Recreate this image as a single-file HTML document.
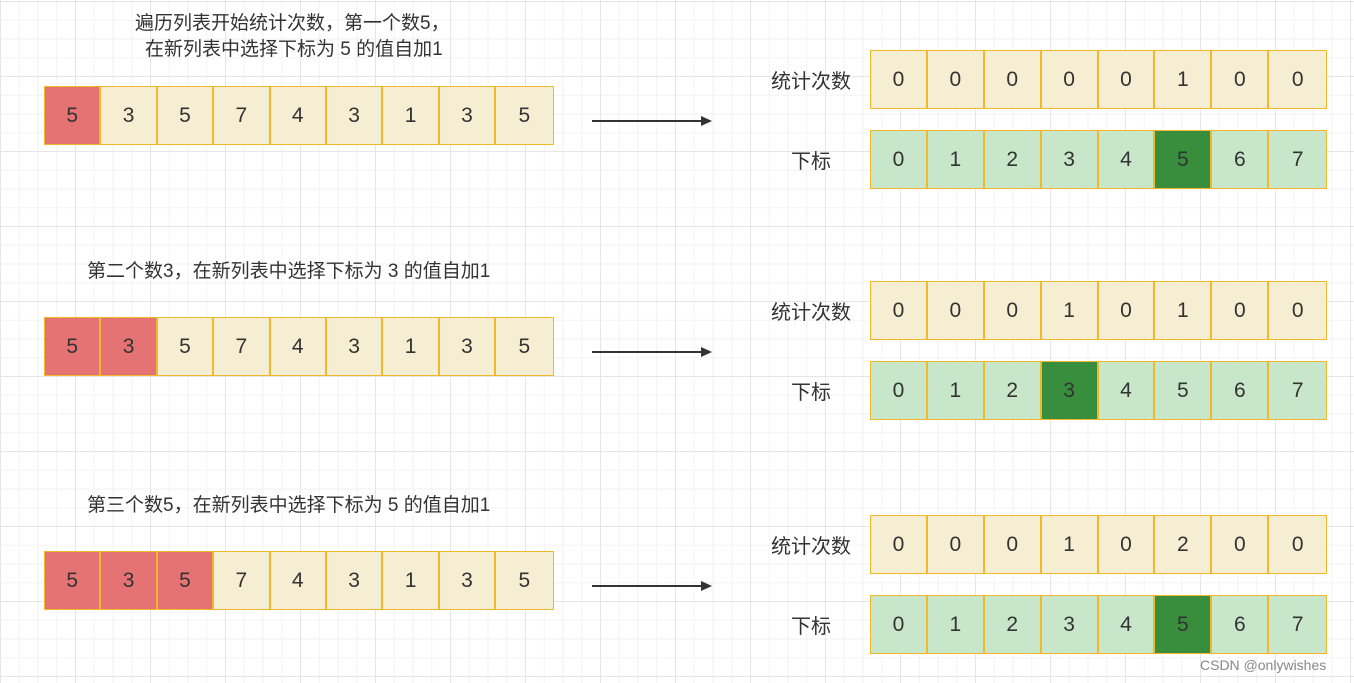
<!DOCTYPE html>
<html><head><meta charset="utf-8"><style>
body{margin:0;width:1354px;height:683px;overflow:hidden;position:relative;font-family:"Liberation Sans","Noto Sans CJK SC",sans-serif;color:#333;
background-color:#fff;
background-image:linear-gradient(#e6e6e6 1px,transparent 1px),linear-gradient(90deg,#e6e6e6 1px,transparent 1px),linear-gradient(#f2f2f2 1px,transparent 1px),linear-gradient(90deg,#f2f2f2 1px,transparent 1px);
background-size:75px 75px,75px 75px,18.75px 18.75px,18.75px 18.75px;
background-position:0 1px,0 0,0 1px,0 0;}
.row{position:absolute;display:flex;border:1.5px solid #f0b82a;}
.c{height:57px;border-right:2px solid #f0b82a;display:flex;align-items:center;justify-content:center;font-size:21px;background:#f5eed3;box-sizing:border-box}
.c:last-child{border-right:none}
.l .c{width:56.4px}.r .c{width:56.9px}
.red{background:#e57373!important}.g .c{background:#c8e6c9}.dg{background:#388e3c!important}
.t{position:absolute;font-size:19px;white-space:nowrap}
.lab{position:absolute;font-size:20px;width:100px;text-align:center}
.ar{position:absolute;height:2px;background:#333;width:110px}
.ar:after{content:"";position:absolute;right:-10px;top:-4px;border-left:11px solid #333;border-top:5px solid transparent;border-bottom:5px solid transparent}
</style></head><body>
<div class="t" style="left:135px;top:8px">遍历列表开始统计次数，第一个数5，</div>
<div class="t" style="left:145px;top:34px">在新列表中选择下标为 5 的值自加1</div>
<div class="t" style="left:87px;top:256px">第二个数3，在新列表中选择下标为 3 的值自加1</div>
<div class="t" style="left:87px;top:490px">第三个数5，在新列表中选择下标为 5 的值自加1</div>

<div class="row l" style="left:44px;top:86px"><div class="c red">5</div><div class="c">3</div><div class="c">5</div><div class="c">7</div><div class="c">4</div><div class="c">3</div><div class="c">1</div><div class="c">3</div><div class="c">5</div></div>
<div class="row l" style="left:44px;top:317px"><div class="c red">5</div><div class="c red">3</div><div class="c">5</div><div class="c">7</div><div class="c">4</div><div class="c">3</div><div class="c">1</div><div class="c">3</div><div class="c">5</div></div>
<div class="row l" style="left:44px;top:551px"><div class="c red">5</div><div class="c red">3</div><div class="c red">5</div><div class="c">7</div><div class="c">4</div><div class="c">3</div><div class="c">1</div><div class="c">3</div><div class="c">5</div></div>

<div class="ar" style="left:592px;top:120px"></div>
<div class="ar" style="left:592px;top:351px"></div>
<div class="ar" style="left:592px;top:585px"></div>

<div class="lab" style="left:761px;top:65px">统计次数</div>
<div class="lab" style="left:761px;top:145px">下标</div>
<div class="lab" style="left:761px;top:296px">统计次数</div>
<div class="lab" style="left:761px;top:376px">下标</div>
<div class="lab" style="left:761px;top:530px">统计次数</div>
<div class="lab" style="left:761px;top:610px">下标</div>

<div class="row r" style="left:870px;top:50px"><div class="c">0</div><div class="c">0</div><div class="c">0</div><div class="c">0</div><div class="c">0</div><div class="c">1</div><div class="c">0</div><div class="c">0</div></div>
<div class="row r g" style="left:870px;top:130px"><div class="c">0</div><div class="c">1</div><div class="c">2</div><div class="c">3</div><div class="c">4</div><div class="c dg">5</div><div class="c">6</div><div class="c">7</div></div>
<div class="row r" style="left:870px;top:281px"><div class="c">0</div><div class="c">0</div><div class="c">0</div><div class="c">1</div><div class="c">0</div><div class="c">1</div><div class="c">0</div><div class="c">0</div></div>
<div class="row r g" style="left:870px;top:361px"><div class="c">0</div><div class="c">1</div><div class="c">2</div><div class="c dg">3</div><div class="c">4</div><div class="c">5</div><div class="c">6</div><div class="c">7</div></div>
<div class="row r" style="left:870px;top:515px"><div class="c">0</div><div class="c">0</div><div class="c">0</div><div class="c">1</div><div class="c">0</div><div class="c">2</div><div class="c">0</div><div class="c">0</div></div>
<div class="row r g" style="left:870px;top:595px"><div class="c">0</div><div class="c">1</div><div class="c">2</div><div class="c">3</div><div class="c">4</div><div class="c dg">5</div><div class="c">6</div><div class="c">7</div></div>

<div class="t" style="left:1200px;top:657px;font-size:14px;color:#888">CSDN @onlywishes</div>
</body></html>
